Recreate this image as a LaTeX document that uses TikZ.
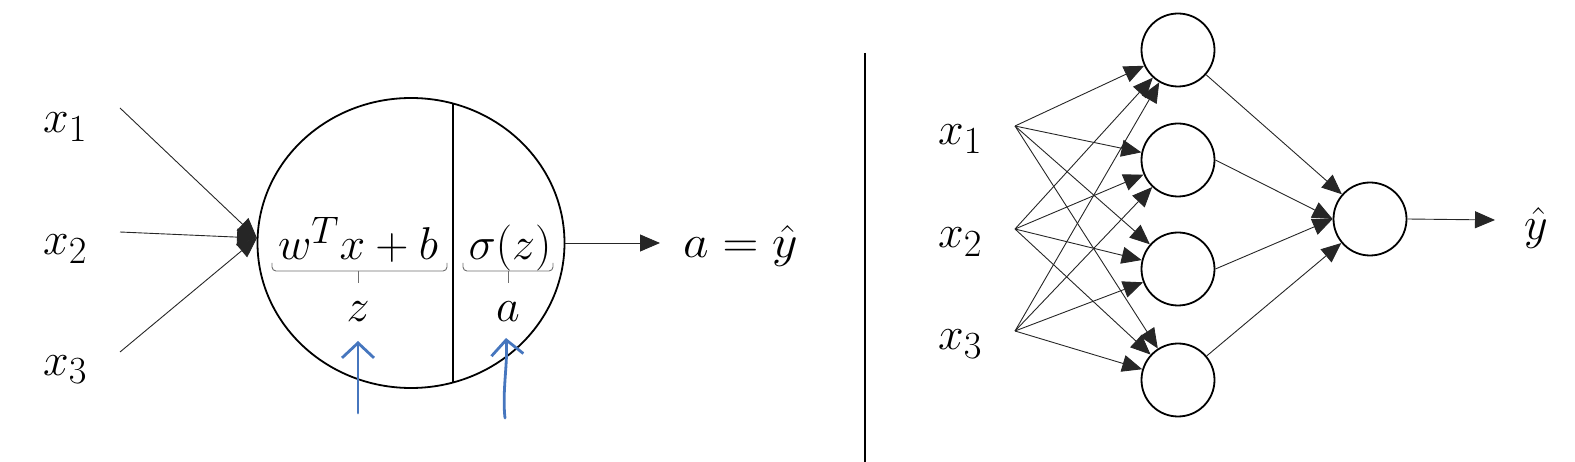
\documentclass[tikz,border=0pt]{standalone}
\usetikzlibrary{arrows.meta,shapes.geometric}
\definecolor{handblue}{RGB}{70,118,190}
\definecolor{bracegray}{RGB}{110,110,110}
\newcommand{\Mth}[1]{\scalebox{1.85}{\Huge$#1$}}
\begin{document}
\begin{tikzpicture}[x=1pt,y=-1pt,
  lab/.style={inner sep=0pt},
  thin edge/.style={line width=0.9pt, draw=black!85, -{Triangle[length=20pt,width=17pt]}},
  unit/.style={circle, draw, line width=1.8pt, minimum size=73pt, inner sep=0pt},
  brace line/.style={draw=bracegray, line width=0.9pt},
  blue arrow/.style={draw=handblue, line width=2.8pt, line cap=round, -{Straight Barb[length=15pt,width=32pt,line width=2.8pt]}}]
\useasboundingbox (0,0) rectangle (1575,462);

% ---------- left: single neuron ----------
\node[lab, anchor=base west] (lx1) at (43,133) {\Mth{x_1}};
\node[lab, anchor=base west] (lx2) at (43,255) {\Mth{x_2}};
\node[lab, anchor=base west] (lx3) at (43,375) {\Mth{x_3}};
\coordinate (ls1) at (120,108);
\coordinate (ls2) at (120,232);
\coordinate (ls3) at (120,352);

\node[ellipse, draw, line width=1.8pt, minimum width=307pt, minimum height=290pt, inner sep=0pt] (neuron) at (411,243) {};
\coordinate (lin) at (257,238);
\draw[thin edge] (ls1) -- (lin);
\draw[thin edge] (ls2) -- (lin);
\draw[thin edge] (ls3) -- (lin);

\coordinate (divtop) at (453,103.5);
\coordinate (divbot) at (453,382.5);
\draw[line width=1.8pt] (divtop) -- (divbot);

\node[lab, anchor=base] (lin1) at (358,260) {\Mth{w^Tx+b}};
\node[lab, anchor=base] (sig) at (510,260) {\Mth{\sigma(z)}};

\draw[brace line, rounded corners=4pt] (272,263) -- (272,271) -- (447,271) -- (447,263);
\draw[brace line] (358,271) -- (358,283);
\draw[brace line, rounded corners=4pt] (463,263) -- (463,271) -- (553,271) -- (553,263);
\draw[brace line] (508,271) -- (508,283);

\node[lab, anchor=base] (zlab) at (358,322) {\Mth{z}};
\node[lab, anchor=base] (alab) at (508,322) {\Mth{a}};

\coordinate (b1s) at (358,413);
\coordinate (b1e) at (358,341);
\draw[blue arrow] (b1s) -- (b1e);
\coordinate (b2s) at (505,418);
\coordinate (b2e) at (506,338);
\draw[blue arrow] (b2s) .. controls (502,392) and (508,362) .. (b2e);

\coordinate (lout) at (660,243);
\draw[thin edge] (neuron.east) -- (lout);
\node[lab, anchor=base west] (ahat) at (683,258) {\scalebox{1.08}[1]{\Mth{a=\hat{y}}}};

% ---------- divider ----------
\coordinate (dtop) at (865,53);
\coordinate (dbot) at (865,462);
\draw[line width=2pt] (dtop) -- (dbot);

% ---------- right: network ----------
\node[lab, anchor=base west] (rx1) at (938,145) {\Mth{x_1}};
\node[lab, anchor=base west] (rx2) at (938,248) {\Mth{x_2}};
\node[lab, anchor=base west] (rx3) at (938,350) {\Mth{x_3}};
\coordinate (s1) at (1015,126);
\coordinate (s2) at (1015,229);
\coordinate (s3) at (1015,331);

\node[unit] (h1) at (1178,50) {};
\node[unit] (h2) at (1178,160) {};
\node[unit] (h3) at (1178,269) {};
\node[unit] (h4) at (1178,380) {};
\node[unit] (out) at (1370,219) {};

\foreach \s in {s1,s2,s3}
  \foreach \h in {h1,h2,h3,h4}
    \draw[thin edge] (\s) -- (\h);

\draw[thin edge] (h1) -- (out);
\draw[thin edge] (h2.east) -- (out.west);
\draw[thin edge] (h3.east) -- (out.west);
\draw[thin edge] (h4) -- (out);

\coordinate (rout) at (1495,220);
\draw[thin edge] (out.east) -- (rout);
\node[lab, anchor=base] (yhat) at (1536,240) {\Mth{\hat{y}}};
\end{tikzpicture}
\end{document}
